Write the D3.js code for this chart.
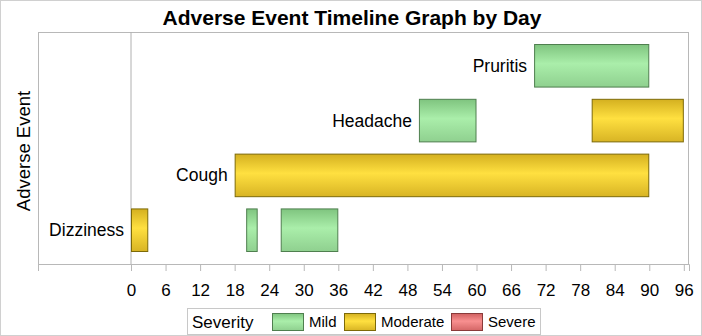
<!DOCTYPE html>
<html><head><meta charset="utf-8">
<script src="https://cdn.jsdelivr.net/npm/d3@7"></script>
<style>body{margin:0;background:#fff;}svg{display:block;font-family:"Liberation Sans",Arial,sans-serif;}</style>
</head><body>
<svg id="c" width="702" height="336"></svg>
<script>
const eventNames = ["Pruritis","Headache","Cough","Dizziness"];
const barEvent = ["Pruritis","Headache","Headache","Cough","Dizziness","Dizziness","Dizziness"];
const barStart = [70, 50, 80, 18, 0, 20, 26];
const barEnd   = [90, 60, 96, 90, 3, 22, 36];
const barSeverity = ["Mild","Mild","Moderate","Moderate","Moderate","Mild","Mild"];
const severities = ["Mild","Moderate","Severe"];
const tickValues = [0,6,12,18,24,30,36,42,48,54,60,66,72,78,84,90,96];

const fills = {Mild:["#7fc47f","#aaeeaa","#8fd08f"], Moderate:["#d4b020","#ffe040","#d8b424"], Severe:["#d06060","#f89090","#d46666"]};
const strokes = {Mild:"#4f7f4f", Moderate:"#7d6a08", Severe:"#8a3a3a"};

const svg = d3.select("#c");
svg.append("rect").attr("x",0.5).attr("y",0.5).attr("width",701).attr("height",335).attr("fill","none").attr("stroke","#d0d0d0");

const defs = svg.append("defs");
severities.forEach(s=>{
  const g = defs.append("linearGradient").attr("id","g"+s).attr("x1",0).attr("y1",0).attr("x2",0).attr("y2",1);
  g.append("stop").attr("offset","0%").attr("stop-color",fills[s][0]);
  g.append("stop").attr("offset","45%").attr("stop-color",fills[s][1]);
  g.append("stop").attr("offset","100%").attr("stop-color",fills[s][2]);
});

const L=38, R=689, T=32, B=264;
const x = d3.scaleLinear().domain([-16.15, 96.9]).range([L,R]);
const y = d3.scaleBand().domain(eventNames).range([44, 252]).paddingInner(0.205).paddingOuter(0);

svg.append("text").attr("x",352).attr("y",25).attr("text-anchor","middle")
  .attr("font-size",21).attr("font-weight","bold").text("Adverse Event Timeline Graph by Day");

svg.append("rect").attr("x",L+0.5).attr("y",T+0.5).attr("width",R-L-1).attr("height",B-T)
  .attr("fill","none").attr("stroke","#b8b8b8");

svg.append("line").attr("x1",x(0)).attr("x2",x(0)).attr("y1",T).attr("y2",B).attr("stroke","#b0b0b0");

const bars = barEvent.map((e,i)=>({e, s:barStart[i], t:barEnd[i], sev:barSeverity[i]}));
svg.append("g").selectAll("rect").data(bars).join("rect")
  .attr("x",d=>x(d.s)+0.5).attr("y",d=>y(d.e)+0.5)
  .attr("width",d=>x(d.t)-x(d.s)-1).attr("height",y.bandwidth()-1)
  .attr("fill",d=>"url(#g"+d.sev+")").attr("stroke",d=>strokes[d.sev]).attr("stroke-width",1);

eventNames.forEach(e=>{
  const st = d3.min(bars.filter(b=>b.e===e), b=>b.s);
  svg.append("text").attr("x",x(st)-7).attr("y",y(e)+y.bandwidth()/2+6)
    .attr("text-anchor","end").attr("font-size",17.5).text(e);
});

const ax = svg.append("g").attr("transform",`translate(0,${B})`)
  .call(d3.axisBottom(x).tickValues(tickValues).tickSizeOuter(0).tickSize(7).tickPadding(6));
ax.select(".domain").attr("stroke","#b8b8b8");
ax.selectAll(".tick line").attr("stroke","#b8b8b8");
ax.selectAll(".tick text").attr("font-size",17).attr("fill","#000").attr("dy",null).attr("y",32)
  .attr("font-family","'Liberation Sans',Arial,sans-serif");

svg.append("text").attr("transform","translate(30,151) rotate(-90)").attr("text-anchor","middle")
  .attr("font-size",18.5).text("Adverse Event");

// legend
const lg = svg.append("g");
lg.append("rect").attr("x",187.5).attr("y",308.5).attr("width",353).attr("height",26).attr("fill","#fff").attr("stroke","#c8c8c8");
lg.append("text").attr("x",192).attr("y",328).attr("font-size",17).text("Severity");
const sw = [272, 344, 451];
severities.forEach((s,i)=>{
  lg.append("rect").attr("x",sw[i]+0.5).attr("y",313.5).attr("width",31).attr("height",17)
    .attr("fill","url(#g"+s+")").attr("stroke",strokes[s]);
  lg.append("text").attr("x",sw[i]+37).attr("y",327).attr("font-size",15).text(s);
});
</script>
</body></html>
